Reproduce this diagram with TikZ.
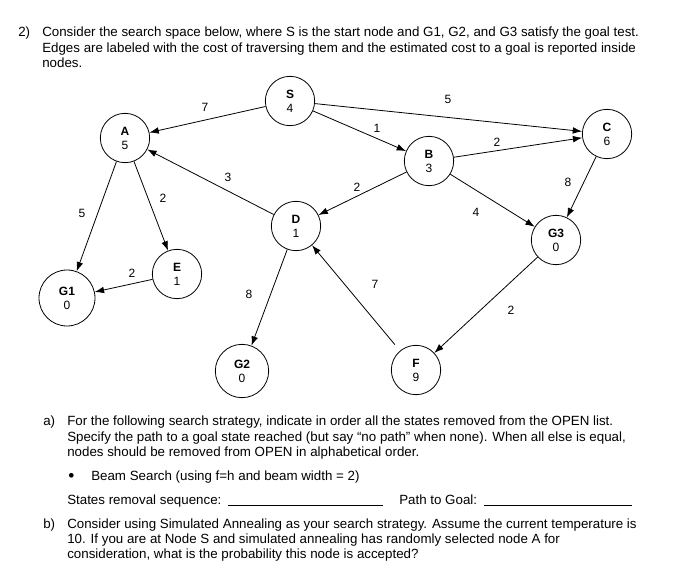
\documentclass[tikz,border=0pt]{standalone}
\usepackage{fontspec}
\setmainfont{Liberation Sans}
\usetikzlibrary{arrows.meta}

\begin{document}
\begin{tikzpicture}[
  x=0.75pt, y=-0.75pt,
  state/.style={circle, draw, line width=0.6pt, minimum size=37pt, inner sep=0pt, align=center, font=\fontsize{9}{10.5}\selectfont},
  cost/.style={font=\fontsize{9}{10}\selectfont, inner sep=1pt},
  edge/.style={line width=0.6pt, -{Latex[length=7pt,width=5pt]}},
  txt/.style={anchor=base west, inner sep=0pt, font=\fontsize{10}{12}\selectfont}
]
  \useasboundingbox (0,0) rectangle (673,567);

  % question text
  \node[txt] (q2n) at (18,37) {2)};
  \node[txt] (q2a) at (42,37) {Consider the search space below, where S is the start node and G1, G2, and G3 satisfy the goal test.};
  \node[txt] (q2b) at (42,52) {Edges are labeled with the cost of traversing them and the estimated cost to a goal is reported inside};
  \node[txt] (q2c) at (42,67) {nodes.};

  % states
  \node[state] (S) at (290,101) {\textbf{S}\\4};
  \node[state] (A) at (125,138) {\textbf{A}\\5};
  \node[state] (B) at (429,161) {\textbf{B}\\3};
  \node[state] (C) at (607,134) {\textbf{C}\\6};
  \node[state] (D) at (296,226) {\textbf{D}\\1};
  \node[state] (E) at (177,274) {\textbf{E}\\1};
  \node[state, minimum size=42pt] (G1) at (67,298) {\textbf{G1}\\0};
  \node[state, minimum size=40pt] (G2) at (242,371) {\textbf{G2}\\0};
  \node[state] (G3) at (556,240) {\textbf{G3}\\0};
  \node[state] (F) at (416,370) {\textbf{F}\\9};

  % edges
  \draw[edge] (S) -- (A);
  \draw[edge] (S) -- (B);
  \draw[edge] (S) -- (C);
  \draw[edge] (B) -- (C);
  \draw[edge] (B) -- (D);
  \draw[edge] (B) -- (G3);
  \draw[edge] (C) -- (G3);
  \draw[edge] (D) -- (A);
  \draw[edge] (A) -- (G1);
  \draw[edge] (A) -- (E);
  \draw[edge] (E) -- (G1);
  \draw[edge] (D) -- (G2);
  \draw[edge, shorten <=6pt] (F) -- (D);
  \draw[edge] (G3) -- (F);

  % costs
  \node[cost] (cSA) at (205,107) {7};
  \node[cost] (cSC) at (448,99) {5};
  \node[cost] (cSB) at (377,128) {1};
  \node[cost] (cBC) at (497,142) {2};
  \node[cost] (cBD) at (357,187) {2};
  \node[cost] (cBG3) at (476,212) {4};
  \node[cost] (cCG3) at (568,182) {8};
  \node[cost] (cDA) at (228,177) {3};
  \node[cost] (cAG1) at (82,213) {5};
  \node[cost] (cAE) at (163,198) {2};
  \node[cost] (cEG1) at (132,273) {2};
  \node[cost] (cDG2) at (249,294) {8};
  \node[cost] (cFD) at (375,284) {7};
  \node[cost] (cG3F) at (511,310) {2};

  % part a
  \node[txt] (pa) at (43,425) {a)};
  \node[txt] (pa1) at (67,425) {For the following search strategy, indicate in order all the states removed from the OPEN list.};
  \node[txt] (pa2) at (67,441) {Specify the path to a goal state reached (but say “no path” when none). When all else is equal,};
  \node[txt] (pa3) at (67,456) {nodes should be removed from OPEN in alphabetical order.};
  \node[txt, font=\fontsize{13}{12}\selectfont] (bul) at (68,481) {\textbullet};
  \node[txt] (beam) at (91,480) {Beam Search (using f=h and beam width = 2)};
  \node[txt] (seq) at (67,504) {States removal sequence:};
  \node[txt] (goal) at (399,504) {Path to Goal:};
  \coordinate (u1a) at (228,505);
  \coordinate (u1b) at (383,505);
  \coordinate (u2a) at (484,505);
  \coordinate (u2b) at (632,505);
  \draw[line width=0.5pt] (u1a) -- (u1b);
  \draw[line width=0.5pt] (u2a) -- (u2b);

  % part b
  \node[txt] (pb) at (43,528) {b)};
  \node[txt] (pb1) at (67,528) {Consider using Simulated Annealing as your search strategy.  Assume the current temperature is};
  \node[txt] (pb2) at (67,543) {10.  If you are at Node S and simulated annealing has randomly selected node A for};
  \node[txt] (pb3) at (67,558) {consideration, what is the probability this node is accepted?};
\end{tikzpicture}
\end{document}
